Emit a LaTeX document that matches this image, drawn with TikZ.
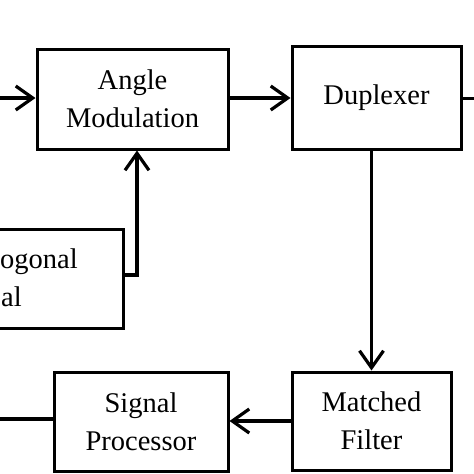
\documentclass[tikz,border=0pt]{standalone}
\usepackage{fontspec}
\setmainfont{Liberation Serif}
\usetikzlibrary{arrows.meta}
\begin{document}
\begin{tikzpicture}[x=1pt,y=-1pt,
  blk/.style={draw,line width=3pt,rectangle,align=center,inner sep=0pt,
    font=\fontsize{28.5}{38}\selectfont},
  lbl/.style={inner sep=0pt,font=\fontsize{28.5}{38}\selectfont},
  conn/.style={line width=3.2pt},
  arr/.style={conn,-{Straight Barb[length=17pt,width=24pt,line width=3.2pt]}}]
\clip (0,0) rectangle (474,474);
\useasboundingbox (0,0) rectangle (474,474);
\fill[white] (0,0) rectangle (474,474);
\node[blk,minimum width=191pt,minimum height=100pt] (am) at (132.5,99) {Angle\\Modulation};
\node[blk,minimum width=169pt,minimum height=103pt] (dup) at (376.5,97.5) {Duplexer};
\node[blk,minimum width=170pt,minimum height=99pt] (orth) at (38,278.5) {};
\node[lbl,anchor=base east] (t1) at (78,268) {ogonal};
\node[lbl,anchor=base east] (t2) at (22,306) {al};
\node[blk,minimum width=174pt,minimum height=99pt] (sp) at (141,421.5) {Signal\\Processor};
\node[blk,minimum width=159pt,minimum height=98pt] (mf) at (371.5,421) {Matched\\Filter};
\coordinate (in1) at (0,98);
\coordinate (out1) at (474,98.5);
\coordinate (out2) at (0,419);
\coordinate (c1) at (137,275);
\draw[arr] (in1) -- (in1 -| am.west);
\draw[arr] (am.east |- 0,98) -- (dup.west |- 0,98);
\draw[conn] (dup.east |- out1) -- (out1);
\draw[arr] (mf.north |- dup.south) -- (mf.north);
\draw[arr] (mf.west) -- (mf.west -| sp.east);
\draw[conn] (sp.west |- out2) -- (out2);
\draw[arr] (orth.east |- c1) -- (c1) -- (c1 |- am.south);
\end{tikzpicture}
\end{document}
